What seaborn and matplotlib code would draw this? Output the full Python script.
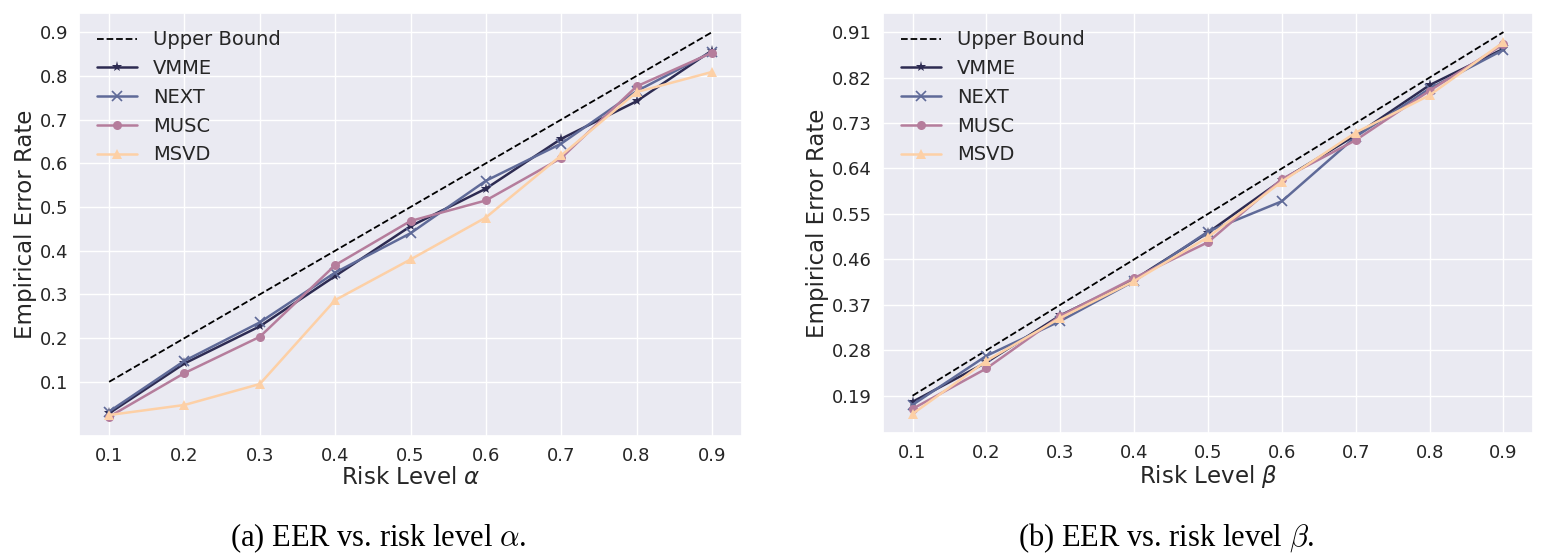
import matplotlib
matplotlib.use("Agg")
import matplotlib.pyplot as plt
import seaborn as sns

# Risk levels shared by both panels
risk_levels = [0.1, 0.2, 0.3, 0.4, 0.5, 0.6, 0.7, 0.8, 0.9]

# Panel (a): EER vs. risk level alpha
alpha_bound = [0.1, 0.2, 0.3, 0.4, 0.5, 0.6, 0.7, 0.8, 0.9]
alpha_vmme = [0.028, 0.142, 0.227, 0.342, 0.456, 0.542, 0.656, 0.742, 0.858]
alpha_next = [0.032, 0.148, 0.236, 0.350, 0.440, 0.560, 0.645, 0.765, 0.855]
alpha_musc = [0.020, 0.120, 0.203, 0.367, 0.468, 0.515, 0.612, 0.776, 0.853]
alpha_msvd = [0.024, 0.047, 0.095, 0.287, 0.380, 0.476, 0.618, 0.763, 0.809]
alpha_ticks = [0.1, 0.2, 0.3, 0.4, 0.5, 0.6, 0.7, 0.8, 0.9]

# Panel (b): EER vs. risk level beta
beta_bound = [0.19, 0.28, 0.37, 0.46, 0.55, 0.64, 0.73, 0.82, 0.91]
beta_vmme = [0.178, 0.256, 0.349, 0.420, 0.513, 0.617, 0.706, 0.805, 0.877]
beta_next = [0.172, 0.269, 0.338, 0.417, 0.515, 0.575, 0.703, 0.798, 0.875]
beta_musc = [0.164, 0.244, 0.348, 0.423, 0.494, 0.619, 0.696, 0.794, 0.886]
beta_msvd = [0.154, 0.259, 0.344, 0.417, 0.504, 0.614, 0.711, 0.785, 0.890]
beta_ticks = [0.19, 0.28, 0.37, 0.46, 0.55, 0.64, 0.73, 0.82, 0.91]

methods = ["VMME", "NEXT", "MUSC", "MSVD"]
markers = ["*", "x", "o", "^"]
palette = sns.color_palette(["#2d2b52", "#5f6a98", "#b57d9c", "#fdd0a6"])


def draw_panel(ax, bound, series, yticks, xlabel):
    sns.lineplot(x=risk_levels, y=bound, ax=ax, color="black", linestyle="--",
                 linewidth=1.3, label="Upper Bound")
    for name, values, marker, color in zip(methods, series, markers, palette):
        sns.lineplot(x=risk_levels, y=values, ax=ax, color=color, marker=marker,
                     markersize=8 if marker == "*" else 6.5,
                     markeredgewidth=1.2 if marker == "x" else 0,
                     markeredgecolor=color, linewidth=1.8, label=name)
    ax.set_xticks(risk_levels)
    ax.set_xticklabels([f"{v:.1f}" for v in risk_levels])
    ax.set_yticks(yticks)
    ax.set_yticklabels([f"{v:g}" for v in yticks])
    ax.tick_params(labelsize=13, pad=2)
    ax.set_xlabel(xlabel, fontsize=16.5, labelpad=1)
    ax.set_ylabel("Empirical Error Rate", fontsize=16.5, labelpad=2)
    ax.legend(loc="upper left", fontsize=14, frameon=False, handlelength=2.1,
              handletextpad=0.8, labelspacing=0.5)


sns.set_theme(style="darkgrid")
plt.rcParams["font.family"] = ["DejaVu Sans"]
plt.rcParams["mathtext.fontset"] = "dejavusans"

fig = plt.figure(figsize=(15.5, 5.53), dpi=100)
ax_a = fig.add_axes([79 / 1550, 1 - 436 / 553, 663 / 1550, 423 / 553])
ax_b = fig.add_axes([883 / 1550, 1 - 433 / 553, 650 / 1550, 420 / 553])

draw_panel(ax_a, alpha_bound, [alpha_vmme, alpha_next, alpha_musc, alpha_msvd],
           alpha_ticks, r"Risk Level $\alpha$")
draw_panel(ax_b, beta_bound, [beta_vmme, beta_next, beta_musc, beta_msvd],
           beta_ticks, r"Risk Level $\beta$")

caption_style = dict(fontsize=22, family="Liberation Serif", ha="center", va="baseline",
                     math_fontfamily="cm", color="black")
fig.text(378 / 1550, 1 - 546 / 553, r"(a) EER vs. risk level $\alpha$.", **caption_style)
fig.text(1166 / 1550, 1 - 546 / 553, r"(b) EER vs. risk level $\beta$.", **caption_style)

fig.savefig("out.png", dpi=100)
